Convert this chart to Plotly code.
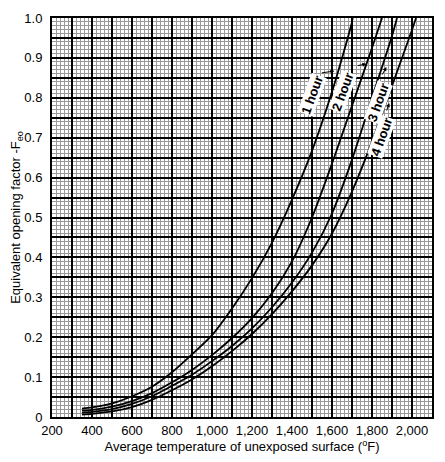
import plotly.graph_objects as go

# curves: temperature (F) -> equivalent opening factor
t_1h = [350, 400, 500, 600, 700, 800, 900, 1000, 1100, 1200, 1300, 1400, 1500, 1600, 1700, 1703]
f_1h = [0.021, 0.024, 0.034, 0.052, 0.076, 0.112, 0.157, 0.205, 0.272, 0.348, 0.437, 0.545, 0.667, 0.815, 0.99, 1.0]

t_2h = [350, 400, 500, 600, 700, 800, 900, 1000, 1100, 1200, 1300, 1400, 1500, 1600, 1700, 1800, 1850]
f_2h = [0.016, 0.018, 0.026, 0.040, 0.060, 0.087, 0.118, 0.155, 0.198, 0.248, 0.31, 0.39, 0.50, 0.635, 0.78, 0.925, 1.0]

t_3h = [350, 400, 500, 600, 700, 800, 900, 1000, 1100, 1200, 1300, 1400, 1500, 1600, 1700, 1800, 1900, 1925]
f_3h = [0.011, 0.013, 0.020, 0.033, 0.052, 0.078, 0.106, 0.140, 0.178, 0.222, 0.275, 0.337, 0.412, 0.51, 0.645, 0.80, 0.955, 1.0]

t_4h = [350, 400, 500, 600, 700, 800, 900, 1000, 1100, 1200, 1300, 1400, 1500, 1600, 1700, 1800, 1900, 2000, 2020]
f_4h = [0.006, 0.008, 0.014, 0.025, 0.043, 0.067, 0.094, 0.127, 0.165, 0.208, 0.258, 0.315, 0.38, 0.46, 0.565, 0.69, 0.83, 0.97, 1.0]

curve_names = ["1 hour", "2 hour", "3 hour", "4 hour"]

# label positions (data coords) and arrow heads
label_x = [1498, 1655, 1830, 1850]
label_y = [0.807, 0.815, 0.789, 0.702]
arrow_x = [1612, 1772, 1872, 1886]
arrow_y = [0.867, 0.885, 0.877, 0.787]
arrow_ax = [-14, -10, -5, -3]
arrow_ay = [2, 2, 9, 9]

# axes ticks
x_ticks = list(range(200, 2101, 100))
x_labels = [f"{v:,}" if v % 200 == 0 and v <= 2000 else "" for v in x_ticks]
y_ticks = [i * 0.05 for i in range(21)]
y_labels = ["0", "", "0.1", "", "0.2", "", "0.3", "", "0.4", "", "0.5", "", "0.6", "", "0.7", "", "0.8", "", "0.9", "", "1.0"]

fig = go.Figure()
for t, f, name in zip([t_1h, t_2h, t_3h, t_4h], [f_1h, f_2h, f_3h, f_4h], curve_names):
    fig.add_trace(go.Scatter(x=t, y=f, mode="lines", name=name,
                             line=dict(color="black", width=1.8, shape="spline", smoothing=0.8)))

for i, name in enumerate(curve_names):
    fig.add_annotation(x=arrow_x[i], y=arrow_y[i], text="", showarrow=True,
                       ax=arrow_ax[i], ay=arrow_ay[i], arrowhead=2, arrowsize=0.8,
                       arrowwidth=1, arrowcolor="black")
    fig.add_annotation(x=label_x[i], y=label_y[i], text=f"<b>{name}</b>", showarrow=False,
                       textangle=-70, bgcolor="white", borderpad=0,
                       font=dict(family="Liberation Sans, Arial", size=13, color="black"))

# page body has an 8px margin, so size the figure to fit inside the window
fig.update_layout(
    width=429, height=446,
    margin=dict(l=44, r=5, t=10, b=37),
    paper_bgcolor="white", plot_bgcolor="white",
    showlegend=False,
    font=dict(family="Liberation Sans, Arial", size=13, color="black"),
)
fig.update_xaxes(
    range=[200, 2100], tickmode="array", tickvals=x_ticks, ticktext=x_labels,
    showgrid=True, gridcolor="black", gridwidth=1.6, zeroline=False, automargin=False,
    showline=True, linecolor="black", linewidth=2, mirror=True, ticks="",
    minor=dict(tickmode="linear", tick0=0, dtick=20, showgrid=True, gridcolor="#9a9a9a", gridwidth=0.7),
    title=dict(text="Average temperature of unexposed surface (<sup>o</sup>F)", font=dict(size=13), standoff=8),
)
fig.update_yaxes(
    range=[0, 1.0], tickmode="array", tickvals=y_ticks, ticktext=y_labels,
    showgrid=True, gridcolor="black", gridwidth=1.6, zeroline=False, automargin=False,
    showline=True, linecolor="black", linewidth=2, mirror=True, ticks="", ticklabelstandoff=5,
    minor=dict(tickmode="linear", tick0=0, dtick=0.01, showgrid=True, gridcolor="#9a9a9a", gridwidth=0.7),
    title=dict(text="Equivalent opening factor -F<sub>eo</sub>", font=dict(size=13), standoff=6),
)

fig.write_html("out.html")
